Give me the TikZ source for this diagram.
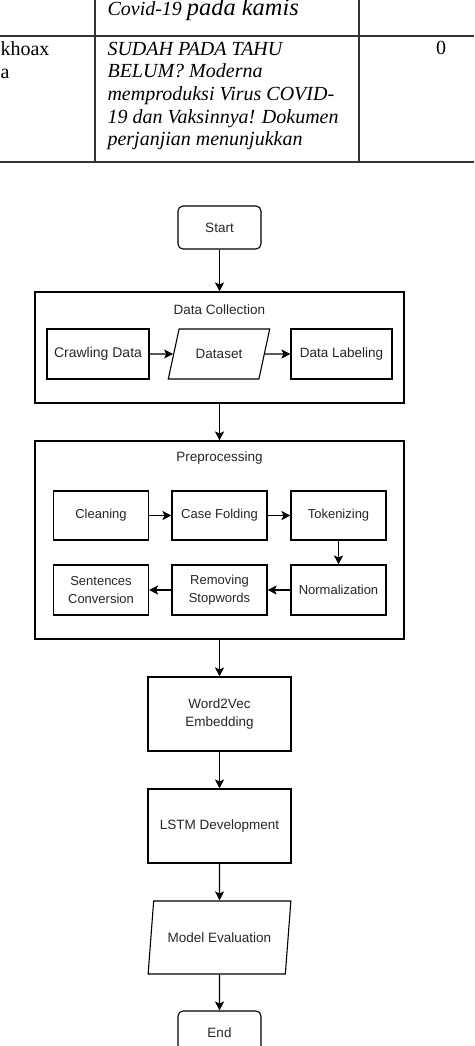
\documentclass[tikz,border=0pt]{standalone}
\usepackage{fontspec}
\setmainfont{Liberation Serif}
\setsansfont{Liberation Sans}
\usetikzlibrary{positioning,shapes,arrows.meta}

\begin{document}
\begin{tikzpicture}[x=1pt, y=-1pt, -{Stealth[length=9pt,width=9pt,inset=2pt]}, line width=1.1pt,
        main/.style = {draw, rectangle, align=center, inner sep=2pt, text=black!85,
          font=\sffamily\fontsize{13.5}{18}\selectfont},
        term/.style = {main, rounded corners=5pt, minimum width=83pt, minimum height=43pt},
        box/.style = {main, minimum width=143pt, minimum height=74pt},
        sub/.style = {main, minimum width=95pt, minimum height=49pt,
          font=\sffamily\fontsize{13}{18}\selectfont},
        io/.style = {main, trapezium, trapezium stretches=true},
        group/.style = {draw, rectangle, minimum width=369pt},
        cell/.style = {inner sep=0pt, font=\fontsize{20}{22.6}\selectfont}]
            \useasboundingbox (0,0) rectangle (474,1046);
            % table rows above the chart
            \draw[-, line width=1.6pt, black!80] (0,36) -- (474,36) (0,162) -- (474,162)
              (95,0) -- (95,162) (359,0) -- (359,162);
            \node[cell, anchor=base west, font=\itshape\fontsize{20}{22.6}\selectfont] (t1) at (107,16)
              {Covid-19 {\fontsize{24.4}{26}\selectfont pada kamis}};
            \node[cell, anchor=north west, align=left] (t2) at (0,41.5) {khoax\\a};
            \node[cell, anchor=north west, align=left, font=\itshape\fontsize{20}{22.6}\selectfont] (t3) at (107,41.5)
              {SUDAH PADA TAHU\\BELUM? Moderna\\memproduksi Virus COVID-\\19 dan Vaksinnya! Dokumen\\perjanjian menunjukkan};
            \node[cell, anchor=base] (t4) at (441,55) {0};
            % flowchart
            \node[term] (1) at (219.5,227.5) {Start};
            \node[group, minimum height=111pt] (2) at (219.5,347.5) {};
            \node[main, draw=none] (2a) at (219.5,310) {Data Collection};
            \node[main, minimum width=102pt, minimum height=50pt, font=\sffamily\fontsize{14}{18}\selectfont] (3) at (98,354) {Crawling Data};
            \node[io, trapezium left angle=63, trapezium right angle=117, minimum width=102pt, minimum height=50pt] (4) at (219,354) {Dataset};
            \node[main, minimum width=101pt, minimum height=50pt] (5) at (341.5,354) {Data Labeling};
            \node[group, minimum height=198pt] (6) at (219.5,540) {};
            \node[main, draw=none] (6a) at (219.5,458) {Preprocessing};
            \node[sub] (7) at (101,515.5) {Cleaning};
            \node[sub] (8) at (219.5,515.5) {Case Folding};
            \node[sub] (9) at (338.5,515.5) {Tokenizing};
            \node[sub, minimum height=50pt] (10) at (338.5,590) {Normalization};
            \node[sub, minimum height=50pt] (11) at (219.5,590) {Removing\\Stopwords};
            \node[sub, minimum height=50pt] (12) at (101,590) {Sentences\\Conversion};
            \node[box] (13) at (219.5,714) {Word2Vec\\Embedding};
            \node[box] (14) at (219.5,826) {LSTM Development};
            \node[io, trapezium left angle=72, trapezium right angle=108, minimum width=143pt, minimum height=73pt] (15) at (219.5,937.5) {Model Evaluation};
            \node[term] (16) at (219.5,1032.5) {End};
            \draw (1) -- (2);
            \draw (3) -- (4);
            \draw (4) -- (5);
            \draw (2) -- (6);
            \draw (7) -- (8);
            \draw (8) -- (9);
            \draw (9) -- (10);
            \draw (10) -- (11);
            \draw (11) -- (12);
            \draw (6) -- (13);
            \draw (13) -- (14);
            \draw (14) -- (15);
            \draw (15) -- (16);
        \end{tikzpicture}
\end{document}
